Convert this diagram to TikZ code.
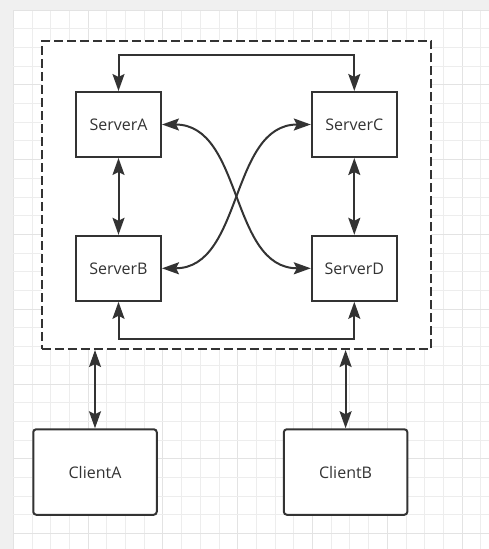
\documentclass[tikz,border=0pt]{standalone}
\usepackage{fontspec}
\setmainfont{Open Sans}
\usetikzlibrary{arrows.meta}
\definecolor{ink}{HTML}{333333}
\definecolor{outerbg}{HTML}{F0F0F0}
\definecolor{gminor}{HTML}{EDEDED}
\definecolor{gmajor}{HTML}{E3E3E3}
\begin{document}
\begin{tikzpicture}[x=1pt,y=-1pt,
  box/.style={draw=ink, line width=2pt, fill=white, minimum width=85pt, minimum height=65pt, inner sep=0pt, text=ink, font=\fontsize{16}{19}\selectfont},
  client/.style={box, rounded corners=3pt, minimum width=123.5pt, minimum height=85.5pt},
  tipstyle/.style={Stealth[length=17pt,width=12pt,inset=3pt]},
  arr/.style={draw=ink, line width=2pt, {Stealth[length=17pt,width=12pt,inset=3pt]}-{Stealth[length=17pt,width=12pt,inset=3pt]}},
  cont/.style={draw=ink, line width=2pt, dash pattern=on 9pt off 4pt, fill=white, inner sep=0pt},
  gline/.style={draw=gminor, line width=1pt},
  gmaj/.style={draw=gmajor, line width=1pt}]
\useasboundingbox (0,0) rectangle (489,549);
% background and grid
\fill[outerbg] (0,0) rectangle (489,549);
\fill[white] (13.3,10) rectangle (489,549);
\foreach \i in {0,...,25} {
  \pgfmathtruncatemacro{\m}{mod(\i,4)}
  \ifnum\m=0 \path[gmaj] ({13.3+18.7*\i},10) -- ({13.3+18.7*\i},549);
  \else \path[gline] ({13.3+18.7*\i},10) -- ({13.3+18.7*\i},549); \fi
}
\foreach \j in {0,...,28} {
  \pgfmathtruncatemacro{\m}{mod(\j,4)}
  \ifnum\m=0 \path[gmaj] (13.3,{10+18.7*\j}) -- (489,{10+18.7*\j});
  \else \path[gline] (13.3,{10+18.7*\j}) -- (489,{10+18.7*\j}); \fi
}
% container
\node[cont, minimum width=389.3pt, minimum height=308pt] (group) at (236.6,195) {};
% servers
\node[box] (SA) at (118.5,124.5) {ServerA};
\node[box] (SC) at (354.3,124.5) {ServerC};
\node[box] (SB) at (118.5,268.3) {ServerB};
\node[box] (SD) at (354.3,268.3) {ServerD};
% clients
\node[client] (CA) at (95,472) {ClientA};
\node[client] (CB) at (345.6,472) {ClientB};
% connectors
\coordinate (topc) at (236.4,55);
\coordinate (botc) at (236.4,339.3);
\draw[arr] (SA.north) |- (topc) -| (SC.north);
\draw[arr] (SB.south) |- (botc) -| (SD.south);
\draw[arr] (SA) -- (SB);
\draw[arr] (SC) -- (SD);
\draw[arr] (SA.east) to[out=0,in=180] (SD.west);
\draw[arr] (SC.west) to[out=180,in=0] (SB.east);
\draw[arr] (CA.north |- group.south) -- (CA.north);
\draw[arr] (CB.north |- group.south) -- (CB.north);
\end{tikzpicture}
\end{document}
